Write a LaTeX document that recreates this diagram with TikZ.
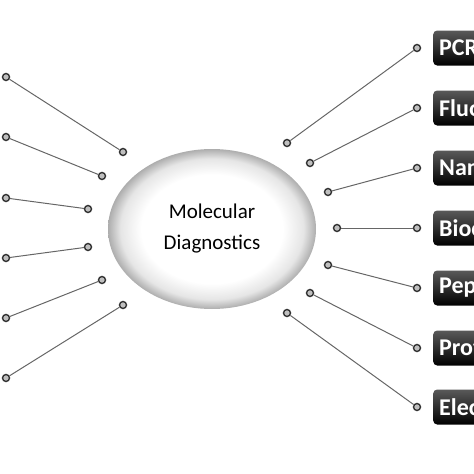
\documentclass[tikz,border=0pt]{standalone}
\usepackage{fontspec}
\setmainfont{Carlito}
\usetikzlibrary{shapes.geometric}
\pgfdeclareradialshading{hubshade}{\pgfpoint{0bp}{0bp}}{color(0bp)=(white); color(17bp)=(white); color(22bp)=(black!10); color(25bp)=(black!32); color(50bp)=(black!32)}
\begin{document}
\begin{tikzpicture}
      [x = 1pt, y = -1pt,
       dot/.style = {circle, inner sep = 0, minimum size = 7pt, fill = gray!50, draw = black!80, line width = 1.4pt},
       link/.style = {draw = black!60, line width = 1pt},
       tag/.style = {anchor = west, rounded corners = 4pt, top color = black!65, bottom color = black, text = white,
                     font = \fontsize{24}{24}\selectfont\bfseries, minimum height = 35pt, text width = 90pt,
                     inner xsep = 6pt, align = left}]
      \useasboundingbox (0,0) rectangle (474,474);
      \clip (0,0) rectangle (474,474);
      \node[ellipse, shade, shading = hubshade, minimum width = 208pt, minimum height = 160pt,
            font = \fontsize{21}{31}\selectfont, text = black, align = center] (hub) at (212,229)
            {Molecular\\Diagnostics};
      \foreach \xin/\yin/\yout/\txt [count = \i] in
        {287/143/48/PCR, 310/163/108/Fluo, 328/192/168/Nan, 337/228/228/Bioc,
         328/265/288/Pept, 310/293/348/Prot, 287/313/407/Elec}
      {
        \node[dot] (rin\i) at (\xin,\yin) {};
        \node[dot] (rout\i) at (417,\yout) {};
        \node[tag] (tag\i) at (433,\yout) {\txt};
        \draw[link] (rin\i) -- (rout\i);
      }
      \foreach \xin/\yin/\yout [count = \i] in
        {123/152/77, 102/176/137, 88/209/198, 88/247/258, 102/280/318, 123/305/378}
      {
        \node[dot] (lin\i) at (\xin,\yin) {};
        \node[dot] (lout\i) at (6,\yout) {};
        \draw[link] (lin\i) -- (lout\i);
      }
\end{tikzpicture}
\end{document}
